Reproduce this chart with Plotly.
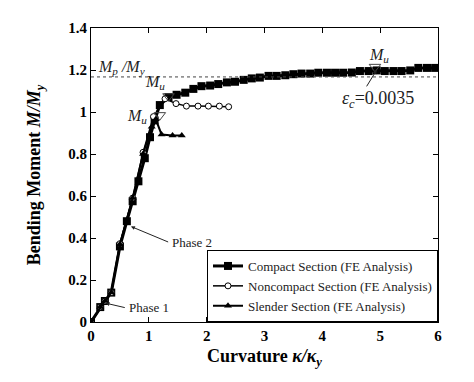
import plotly.graph_objects as go

# ---- data ----
compact_x = [0, 0.16, 0.24, 0.35, 0.50, 0.62, 0.72, 0.82, 0.93, 1.02, 1.10, 1.19,
             1.34, 1.48, 1.63, 1.77, 1.91, 2.06, 2.20, 2.35, 2.49, 2.64, 2.78, 2.92,
             3.07, 3.21, 3.36, 3.50, 3.64, 3.79, 3.93, 4.08, 4.22, 4.36, 4.51, 4.65,
             4.80, 4.94, 5.08, 5.23, 5.37, 5.52, 5.66, 5.81, 5.95]
compact_y = [0, 0.071, 0.10, 0.14, 0.36, 0.48, 0.575, 0.67, 0.78, 0.88, 0.96, 1.033,
             1.071, 1.082, 1.092, 1.110, 1.123, 1.126, 1.133, 1.141, 1.144, 1.153, 1.160, 1.164,
             1.172, 1.172, 1.175, 1.180, 1.183, 1.183, 1.187, 1.187, 1.187, 1.187, 1.188, 1.195,
             1.195, 1.198, 1.195, 1.195, 1.195, 1.198, 1.210, 1.210, 1.210]

noncompact_x = [0, 0.16, 0.24, 0.35, 0.50, 0.72, 0.90, 1.08, 1.28, 1.47, 1.65, 1.85, 2.03, 2.22, 2.38]
noncompact_y = [0, 0.071, 0.10, 0.14, 0.373, 0.59, 0.808, 0.978, 1.063, 1.040, 1.028, 1.028, 1.028, 1.028, 1.025]

slender_x = [0, 0.16, 0.24, 0.35, 0.50, 0.72, 0.90, 1.05, 1.12, 1.22, 1.41, 1.57]
slender_y = [0, 0.071, 0.10, 0.14, 0.37, 0.59, 0.80, 0.93, 0.965, 0.893, 0.888, 0.888]

mu_x = [4.91, 1.34, 1.19]      # ultimate moment markers (compact, noncompact, slender)
mu_y = [1.215, 1.075, 0.985]

mp_my = 1.167

x_ticks = [0, 1, 2, 3, 4, 5, 6]
y_ticks = [0, 0.2, 0.4, 0.6, 0.8, 1.0, 1.2, 1.4]
y_tick_text = ["0", "0.2", "0.4", "0.6", "0.8", "1", "1.2", "1.4"]

SERIF = "Liberation Serif, Times New Roman, serif"

fig = go.Figure()

fig.add_trace(go.Scatter(
    x=compact_x, y=compact_y, mode="lines+markers",
    name="Compact Section (FE Analysis)",
    line=dict(color="black", width=3),
    marker=dict(symbol="square", size=8, color="black"),
))
fig.add_trace(go.Scatter(
    x=noncompact_x, y=noncompact_y, mode="lines+markers",
    name="Noncompact Section (FE Analysis)",
    line=dict(color="black", width=1.5),
    marker=dict(symbol="circle", size=6, color="white", line=dict(width=1, color="black")),
))
fig.add_trace(go.Scatter(
    x=slender_x, y=slender_y, mode="lines+markers",
    name="Slender Section (FE Analysis)",
    line=dict(color="black", width=2),
    marker=dict(symbol="triangle-up", size=7, color="black"),
))
fig.add_trace(go.Scatter(
    x=mu_x, y=mu_y, mode="markers", showlegend=False,
    marker=dict(symbol="triangle-down-open", size=10, color="#444", line=dict(width=1)),
))

fig.add_shape(type="line", xref="x", yref="y", x0=0, x1=6, y0=mp_my, y1=mp_my,
              line=dict(color="#444", width=1, dash="dot"))

tfont = dict(family=SERIF, size=16, color="#222")
fig.add_annotation(x=0.08, y=1.21, xref="x", yref="y", xanchor="left", showarrow=False,
                   text="<i>M</i><sub><i>p</i></sub><i> /M</i><sub><i>y</i></sub>", font=tfont)
fig.add_annotation(x=0.9, y=1.14, xref="x", yref="y", xanchor="left", showarrow=False,
                   text="<i>M</i><sub><i>u</i></sub>", font=tfont)
fig.add_annotation(x=0.58, y=0.98, xref="x", yref="y", xanchor="left", showarrow=False,
                   text="<i>M</i><sub><i>u</i></sub>", font=tfont)
fig.add_annotation(x=4.78, y=1.27, xref="x", yref="y", xanchor="left", showarrow=False,
                   text="<i>M</i><sub><i>u</i></sub>", font=tfont)
fig.add_annotation(x=4.94, y=1.20, ax=4.75, ay=1.115, xref="x", yref="y", axref="x", ayref="y",
                   showarrow=True, arrowhead=2, arrowsize=0.8, arrowwidth=1, arrowcolor="#222", text="")
fig.add_annotation(x=4.3, y=1.06, xref="x", yref="y", xanchor="left", showarrow=False,
                   text="<i>ε</i><sub><i>c</i></sub>=0.0035", font=dict(family=SERIF, size=18, color="#222"))

pfont = dict(family=SERIF, size=13, color="#222")
fig.add_annotation(x=0.69, y=0.455, ax=1.36, ay=0.378, xref="x", yref="y", axref="x", ayref="y",
                   showarrow=True, arrowhead=2, arrowsize=0.8, arrowwidth=1, arrowcolor="#222", text="")
fig.add_annotation(x=1.37, y=0.377, xref="x", yref="y", xanchor="left", showarrow=False,
                   text="Phase 2", font=pfont)
fig.add_annotation(x=0.25, y=0.09, ax=0.61, ay=0.067, xref="x", yref="y", axref="x", ayref="y",
                   showarrow=True, arrowhead=2, arrowsize=0.8, arrowwidth=1, arrowcolor="#222", text="")
fig.add_annotation(x=0.62, y=0.067, xref="x", yref="y", xanchor="left", showarrow=False,
                   text="Phase 1", font=pfont)

axis_common = dict(showline=True, linecolor="black", linewidth=1, mirror="ticks",
                   ticks="inside", ticklen=5, tickcolor="black", showgrid=False, zeroline=False,
                   tickfont=dict(family=SERIF, size=15, color="black", weight="bold"))

fig.update_xaxes(range=[0, 6], tickvals=x_ticks, ticktext=[str(v) for v in x_ticks],
                 title=dict(text="<b>Curvature <i>κ/κ</i><sub><i>y</i></sub></b>",
                            font=dict(family=SERIF, size=18, color="black"), standoff=6),
                 **axis_common)
fig.update_yaxes(range=[0, 1.4], tickvals=y_ticks, ticktext=y_tick_text,
                 title=dict(text="<b>Bending Moment <i>M/M</i><sub><i>y</i></sub></b>",
                            font=dict(family=SERIF, size=18, color="black"), standoff=22),
                 **axis_common)

fig.update_layout(
    width=474, height=382,
    margin=dict(l=83, r=44, t=13, b=68),
    paper_bgcolor="white", plot_bgcolor="white",
    showlegend=True,
    legend=dict(x=1, y=0, xanchor="right", yanchor="bottom",
                bgcolor="white", bordercolor="black", borderwidth=1,
                font=dict(family=SERIF, size=13, color="#222"),
                tracegroupgap=0, itemwidth=30),
)

fig.write_html("out.html")
